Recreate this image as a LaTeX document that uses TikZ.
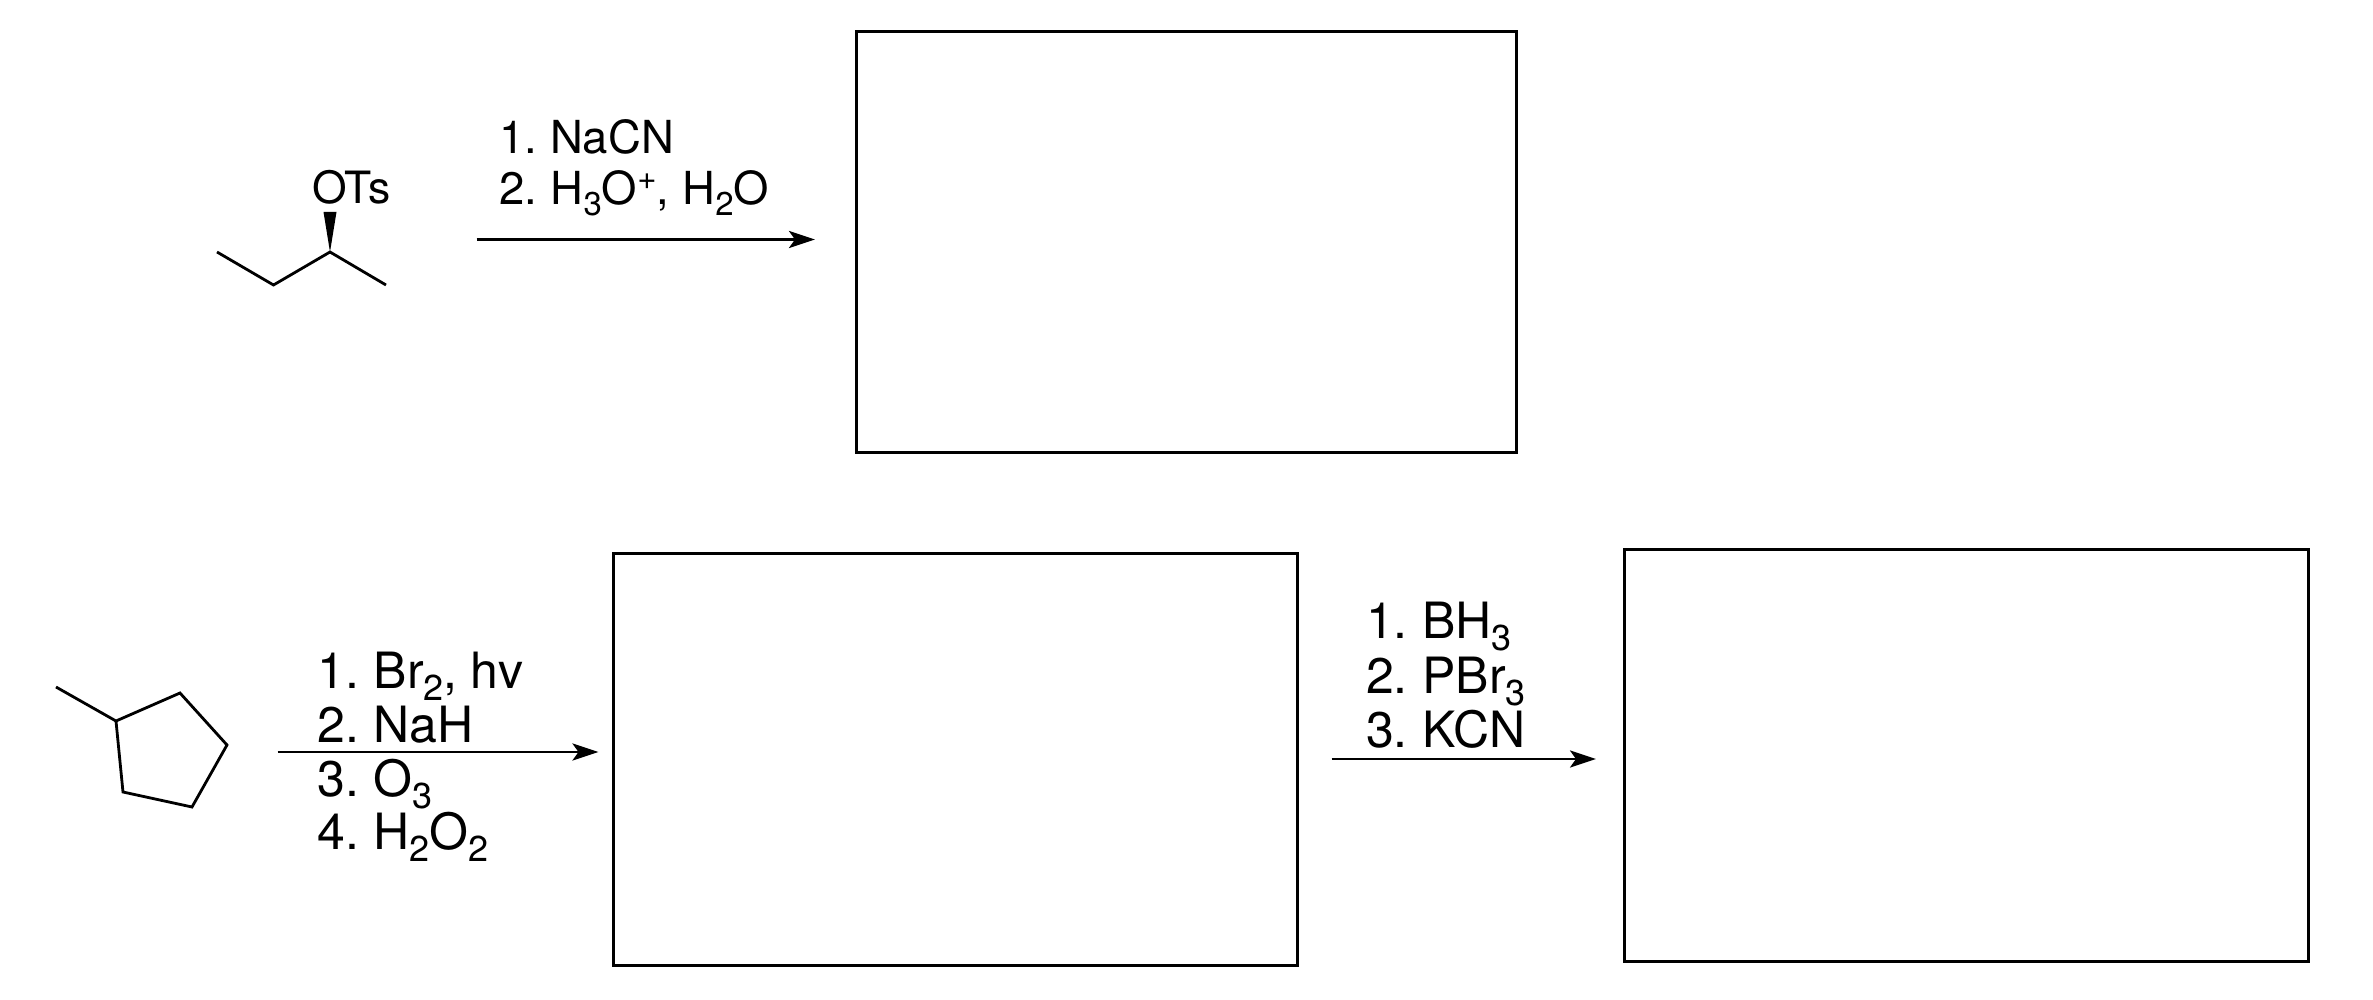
\documentclass[tikz,border=0pt]{standalone}
\usepackage{fontspec}
\setmainfont[WordSpace=0.72]{TeX Gyre Heros}
\usetikzlibrary{arrows.meta}
\newcommand{\lsub}[1]{\raisebox{-11pt}{\fontsize{33}{33}\selectfont #1}}
\newcommand{\lsup}[1]{\raisebox{15pt}{\fontsize{33}{33}\selectfont #1}}
\newcommand{\bsub}[1]{\raisebox{-12pt}{\fontsize{36}{36}\selectfont #1}}
\tikzset{
  answerbox/.style={draw=black,line width=3pt,inner sep=0pt,outer sep=0pt,fill=none},
  bond/.style={draw=black,line width=2.8pt,line join=miter},
  rxn/.style={draw=black,line width=2.8pt,-{Stealth[length=26pt,width=17pt,inset=6pt]}},
  reagent/.style={anchor=base west,inner sep=0pt,outer sep=0pt,font=\fontsize{45.5}{50}\selectfont},
  bigreagent/.style={anchor=base west,inner sep=0pt,outer sep=0pt,font=\fontsize{50}{54}\selectfont},
  atomlabel/.style={anchor=base west,inner sep=0pt,outer sep=0pt,font=\fontsize{44.5}{48}\selectfont}
}
\begin{document}
\begin{tikzpicture}[x=1pt,y=-1pt]
\useasboundingbox (0,0) rectangle (2373,1000);
% boxes
\node[answerbox,minimum width=660pt,minimum height=421pt] (box1) at (1186,242) {};
\node[answerbox,minimum width=684pt,minimum height=412pt] (box2) at (955,759) {};
\node[answerbox,minimum width=684pt,minimum height=412pt] (box3) at (1966,755) {};
% butyl tosylate
\coordinate (c1) at (217,252);
\coordinate (c2) at (273.5,285);
\coordinate (c3) at (330,252);
\coordinate (c4) at (386,285);
\draw[bond] (c1) -- (c2) -- (c3) -- (c4);
\coordinate (wl) at (323.5,212);
\coordinate (wr) at (336.5,212);
\fill[black] (c3) -- (wl) -- (wr) -- cycle;
\node[atomlabel] (ots) at (312,204) {OTs};
% methylcyclopentane
\coordinate (m0) at (56,687);
\coordinate (r1) at (116,721);
\coordinate (r2) at (180,693);
\coordinate (r3) at (227,745);
\coordinate (r4) at (192,807);
\coordinate (r5) at (123,792);
\draw[bond] (m0) -- (r1);
\draw[bond] (r1) -- (r2) -- (r3) -- (r4) -- (r5) -- cycle;
% reaction 1
\coordinate (a1s) at (476.5,239.5);
\coordinate (a1e) at (815,239.5);
\draw[rxn] (a1s) -- (a1e);
\node[reagent] (t11) at (499,154) {1. NaCN};
\node[reagent] (t12) at (499.5,205) {2. H\lsub{3}O\lsup{+},\kern4pt{} H\lsub{2}O};
% reaction 2
\coordinate (a2s) at (277.5,752);
\coordinate (a2e) at (598.5,752);
\draw[rxn] (a2s) -- (a2e);
\node[bigreagent] (t21) at (317.5,688) {1. Br\bsub{2},\kern3pt{} hv};
\node[bigreagent] (t22) at (317.5,742) {2. NaH};
\node[bigreagent] (t23) at (317.5,796) {3. O\bsub{3}};
\node[bigreagent] (t24) at (317.5,849) {4. H\bsub{2}O\bsub{2}};
% reaction 3
\coordinate (a3s) at (1331.5,759);
\coordinate (a3e) at (1596,759);
\draw[rxn] (a3s) -- (a3e);
\node[bigreagent] (t31) at (1366,638) {1. BH\bsub{3}};
\node[bigreagent] (t32) at (1366,693) {2. PBr\bsub{3}};
\node[bigreagent] (t33) at (1366,747) {3. KCN};
\end{tikzpicture}
\end{document}
